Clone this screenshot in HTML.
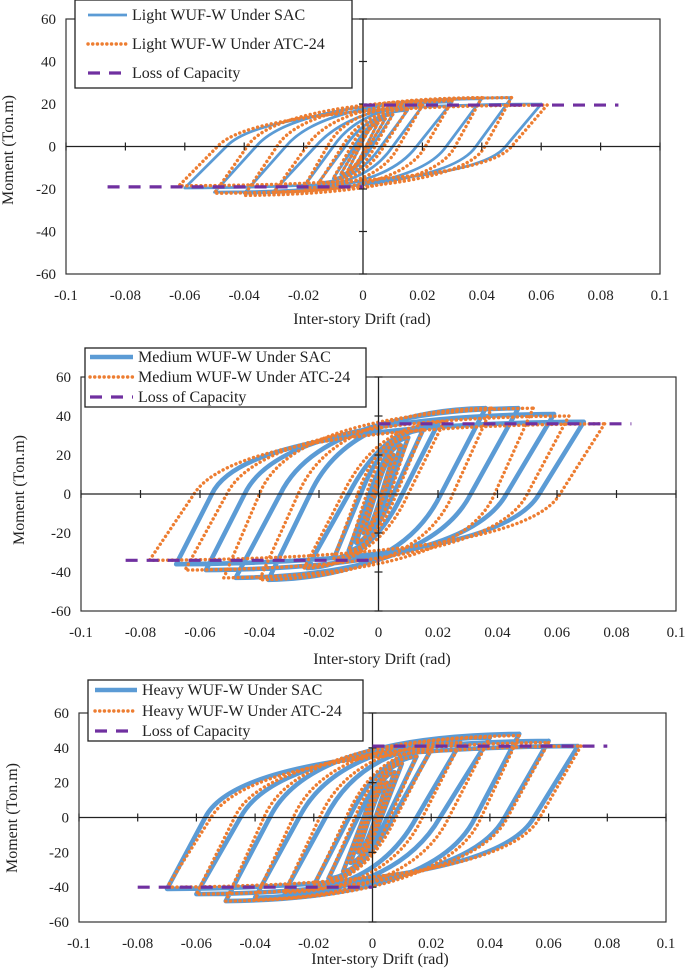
<!DOCTYPE html>
<html><head><meta charset="utf-8"><style>
html,body{margin:0;padding:0;background:#fff}
svg text{font-family:"Liberation Serif",serif;fill:#222}
</style></head><body>
<svg id="fig" width="685" height="970" viewBox="0 0 685 970" xmlns="http://www.w3.org/2000/svg"></svg>
<script>
// ---------- Light ----------
const lightSacAmpPos=[0.005,0.0075,0.01,0.015,0.02,0.03,0.04,0.05,0.06];
const lightSacAmpNeg=[0.005,0.0075,0.01,0.015,0.02,0.03,0.04,0.05,0.06];
const lightSacMPos=[11,13,15,17,19,21,22.5,23,20];
const lightSacMNeg=[-11,-13,-15,-17,-19,-21,-22,-21.5,-19.5];
const lightSacZcPos=[0.001,0.002,0.003,0.006,0.01,0.018,0.028,0.038,0.048];
const lightSacZcNeg=[-0.001,-0.002,-0.003,-0.006,-0.01,-0.016,-0.026,-0.036,-0.046];
const lightAtcAmpPos=[0.005,0.0075,0.01,0.015,0.02,0.03,0.04,0.05,0.062];
const lightAtcAmpNeg=[0.005,0.0075,0.01,0.015,0.02,0.03,0.04,0.05,0.062];
const lightAtcMPos=[11,13,15,17.5,19.5,21.5,23,23,19.5];
const lightAtcMNeg=[-11,-13,-15,-17.5,-19.5,-21.5,-23,-22,-18.5];
const lightAtcZcPos=[0.001,0.002,0.004,0.007,0.012,0.021,0.031,0.041,0.05];
const lightAtcZcNeg=[-0.001,-0.002,-0.004,-0.007,-0.012,-0.019,-0.029,-0.039,-0.049];
const lightLoss=[19.5,0.086,-19,-0.086];
// ---------- Medium ----------
const medSacAmpPos=[0.005,0.0075,0.01,0.015,0.02,0.036,0.047,0.059,0.069];
const medSacAmpNeg=[0.005,0.0075,0.01,0.015,0.024,0.037,0.048,0.058,0.068];
const medSacMPos=[20,25,29,33,36,44,44,41,37];
const medSacMNeg=[-20,-25,-29,-33,-38,-44,-43,-39,-36];
const medSacZcPos=[0.001,0.002,0.003,0.005,0.008,0.021,0.031,0.043,0.054];
const medSacZcNeg=[-0.001,-0.002,-0.003,-0.006,-0.01,-0.023,-0.033,-0.045,-0.056];
const medAtcAmpPos=[0.005,0.0075,0.01,0.015,0.022,0.038,0.052,0.064,0.076];
const medAtcAmpNeg=[0.005,0.0075,0.01,0.015,0.025,0.04,0.052,0.065,0.077];
const medAtcMPos=[20,25,29,33,37,44,44,40,36];
const medAtcMNeg=[-20,-25,-29,-33,-38,-44,-43,-39,-34];
const medAtcZcPos=[0.001,0.002,0.004,0.006,0.01,0.025,0.039,0.05,0.061];
const medAtcZcNeg=[-0.001,-0.002,-0.004,-0.007,-0.012,-0.027,-0.04,-0.051,-0.062];
const medLoss=[36,0.085,-34,-0.085];
// ---------- Heavy ----------
const heavySacAmpPos=[0.005,0.0075,0.01,0.015,0.02,0.03,0.04,0.05,0.06,0.07];
const heavySacAmpNeg=[0.005,0.0075,0.01,0.015,0.02,0.03,0.04,0.05,0.06,0.07];
const heavySacMPos=[20,26,31,35,39,43,46,48,44,41];
const heavySacMNeg=[-20,-26,-31,-35,-39,-43,-46,-48,-44,-41];
const heavySacZcPos=[0.001,0.002,0.003,0.005,0.007,0.015,0.023,0.035,0.045,0.055];
const heavySacZcNeg=[-0.001,-0.002,-0.003,-0.005,-0.008,-0.016,-0.025,-0.035,-0.045,-0.057];
const heavyAtcAmpPos=[0.005,0.0075,0.01,0.015,0.02,0.03,0.04,0.05,0.06,0.071];
const heavyAtcAmpNeg=[0.005,0.0075,0.01,0.015,0.02,0.03,0.04,0.05,0.06,0.07];
const heavyAtcMPos=[20,26,31,35,39,43,46,47,43,41];
const heavyAtcMNeg=[-20,-26,-31,-35,-39,-43,-47,-48,-44,-40];
const heavyAtcZcPos=[0.001,0.002,0.003,0.006,0.008,0.017,0.026,0.037,0.046,0.057];
const heavyAtcZcNeg=[-0.001,-0.002,-0.003,-0.006,-0.009,-0.018,-0.027,-0.037,-0.047,-0.055];
const heavyLoss=[41,0.08,-40,-0.08];
const xTickLabels=["-0.1","-0.08","-0.06","-0.04","-0.02","0","0.02","0.04","0.06","0.08","0.1"];
const yTickLabels=["60","40","20","0","-20","-40","-60"];

const NS="http://www.w3.org/2000/svg";
const fig=document.getElementById('fig');
const DOT='0.1 4.6';
function mk(tag,attrs,parent){const e=document.createElementNS(NS,tag);for(const k in attrs)e.setAttribute(k,attrs[k]);(parent||fig).appendChild(e);return e;}

function drawChart(c){
  const g=mk('g',{});
  
  
  const sx=v=>c.x0+(v+0.1)/0.2*(c.x1-c.x0);
  const sy=v=>c.yT+(60-v)/120*(c.yB-c.yT);
  const frame=mk('rect',{x:c.x0,y:c.yT,width:c.x1-c.x0,height:c.yB-c.yT,fill:'none',stroke:'#333','stroke-width':1.2},g);
  
  
  function series(ap,an,mp,mn,zp,zn,color,width,dash,nm){
    let d='';
    for(let i=0;i<ap.length;i++){
      const A=ap[i],B=an[i],P=mp[i],N=mn[i],Z=zp[i],Y=zn[i];
      let cx1=Z-(A-Z)/P*Math.abs(N)*0.9; if(cx1<-B)cx1=-B;
      let cx2=Y+(Y+B)/Math.abs(N)*P*0.9; if(cx2>A)cx2=A;
      d+=`M${sx(A)},${sy(P)}L${sx(Z)},${sy(0)}Q${sx(cx1)},${sy(N*0.97)} ${sx(-B)},${sy(N)}`;
      d+=`L${sx(Y)},${sy(0)}Q${sx(cx2)},${sy(P*0.97)} ${sx(A)},${sy(P)}`;
    }
    const p=mk('path',{d:d,fill:'none',stroke:color,'stroke-width':width,'stroke-linecap':'round','stroke-linejoin':'round'},g);
    if(dash)p.setAttribute('stroke-dasharray',dash);
    
    
  }
  series(c.sac[0],c.sac[1],c.sac[2],c.sac[3],c.sac[4],c.sac[5],'#5b9bd5',c.bw,null,'sac-series');
  series(c.atc[0],c.atc[1],c.atc[2],c.atc[3],c.atc[4],c.atc[5],'#ed7d31',3.4,DOT,'atc24-series');
  const ax=mk('line',{x1:c.x0,x2:c.x1,y1:sy(0),y2:sy(0),stroke:'#222','stroke-width':1.3},g);
  
  const ay=mk('line',{x1:sx(0),x2:sx(0),y1:c.yT,y2:c.yB,stroke:'#222','stroke-width':1.3},g);
  
  xTickLabels.forEach(t=>{const v=parseFloat(t);
    const tk=mk('line',{x1:sx(v),x2:sx(v),y1:sy(0)-4,y2:sy(0)+4,stroke:'#222','stroke-width':1.2},g);
    
    const tl=mk('text',{x:sx(v),y:c.xlY,'text-anchor':'middle','font-size':15},g);tl.textContent=t;
    
  });
  yTickLabels.forEach(t=>{const v=parseFloat(t);
    const tk=mk('line',{x1:sx(0)-4,x2:sx(0)+4,y1:sy(v),y2:sy(v),stroke:'#222','stroke-width':1.2},g);
    
    const tl=mk('text',{x:c.x0-10,y:sy(v)+5,'text-anchor':'end','font-size':15},g);tl.textContent=t;
    
  });
  const L=c.loss;
  const ld=`M${sx(0)},${sy(L[0])}L${sx(L[1])},${sy(L[0])}M${sx(L[3])},${sy(L[2])}L${sx(0)},${sy(L[2])}`;
  const lp=mk('path',{d:ld,fill:'none',stroke:'#7030a0','stroke-width':3.2,'stroke-dasharray':'12 9'},g);
  
  const xt=mk('text',{x:c.xtX,y:c.xtY,'text-anchor':'middle','font-size':16},g);xt.textContent=c.xTitle;
  
  const yt=mk('text',{x:0,y:0,'text-anchor':'middle','font-size':16,transform:`translate(${c.ytX},${c.ytY}) rotate(-90)`},g);yt.textContent='Moment  (Ton.m)';
  
  const lg=mk('g',{},g);
  
  const lb=mk('rect',{x:c.lg[0],y:c.lg[1],width:c.lg[2]-c.lg[0],height:c.lg[3]-c.lg[1],fill:'#fff',stroke:'#222','stroke-width':1.3},lg);
  
  const items=[[c.label+' WUF-W Under SAC','#5b9bd5',null,c.bw],[c.label+' WUF-W Under ATC-24','#ed7d31',DOT,3.4],['Loss of Capacity','#7030a0','12 9',3.2]];
  items.forEach((it,i)=>{const y=c.rows[i];
    const s=mk('line',{x1:c.ls[0],x2:c.ls[1],y1:y,y2:y,stroke:it[1],'stroke-width':it[3],'stroke-linecap':it[2]===DOT?'round':'butt'},lg);
    if(it[2])s.setAttribute('stroke-dasharray',it[2]);
    
    const t=mk('text',{x:c.ls[1]+5,y:y+5,'font-size':c.lfs},lg);t.textContent=it[0];
    
  });
}
drawChart({name:'light',label:'Light',x0:66,x1:660,yT:19,yB:274,xlY:300,xtX:362,xtY:324,ytX:13,ytY:150,xTitle:'Inter-story Drift (rad)',bw:2.8,
  sac:[lightSacAmpPos,lightSacAmpNeg,lightSacMPos,lightSacMNeg,lightSacZcPos,lightSacZcNeg],
  atc:[lightAtcAmpPos,lightAtcAmpNeg,lightAtcMPos,lightAtcMNeg,lightAtcZcPos,lightAtcZcNeg],
  loss:lightLoss,lg:[75,0,352,88],rows:[15,44,73],ls:[88,127],lfs:16});
drawChart({name:'medium',label:'Medium',x0:81,x1:676,yT:377,yB:611,xlY:637,xtX:382,xtY:664,ytX:24,ytY:490,xTitle:'Inter-story Drift (rad)',bw:4.6,
  sac:[medSacAmpPos,medSacAmpNeg,medSacMPos,medSacMNeg,medSacZcPos,medSacZcNeg],
  atc:[medAtcAmpPos,medAtcAmpNeg,medAtcMPos,medAtcMNeg,medAtcZcPos,medAtcZcNeg],
  loss:medLoss,lg:[85,348,366,407],rows:[357,377,397],ls:[90,133],lfs:16});
drawChart({name:'heavy',label:'Heavy',x0:79,x1:666,yT:713,yB:922,xlY:948,xtX:380,xtY:964,ytX:17,ytY:818,xTitle:'Inter-story Drift  (rad)',bw:4.6,
  sac:[heavySacAmpPos,heavySacAmpNeg,heavySacMPos,heavySacMNeg,heavySacZcPos,heavySacZcNeg],
  atc:[heavyAtcAmpPos,heavyAtcAmpNeg,heavyAtcMPos,heavyAtcMNeg,heavyAtcZcPos,heavyAtcZcNeg],
  loss:heavyLoss,lg:[88,680,363,741],rows:[690,711,731],ls:[95,137],lfs:16});
</script>
</body></html>
